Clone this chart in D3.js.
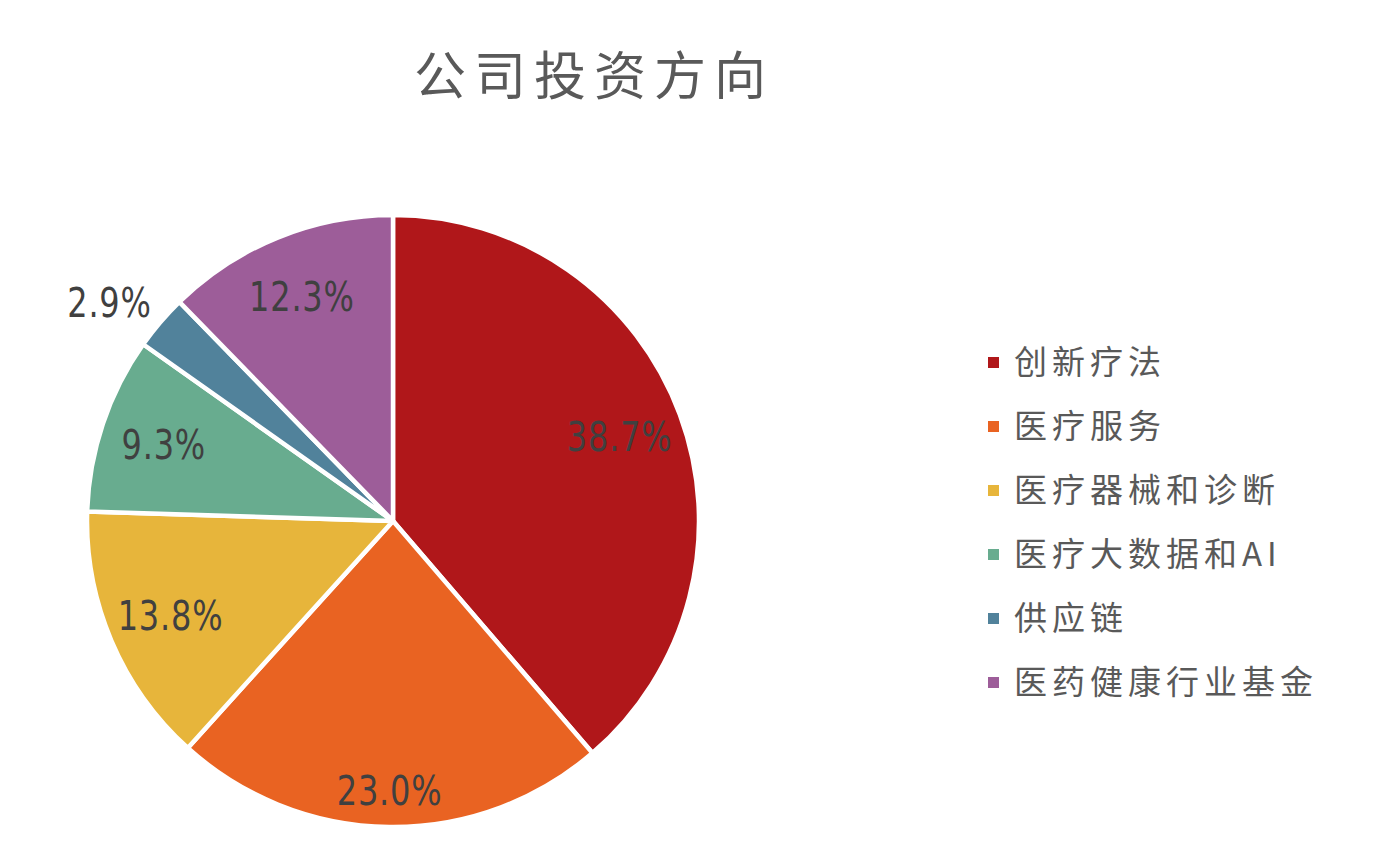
<!DOCTYPE html>
<html>
<head>
<meta charset="utf-8">
<script src="https://cdn.jsdelivr.net/npm/d3@7"></script>
<style>
  html, body { margin: 0; padding: 0; background: #fff; }
  svg { display: block; }
</style>
</head>
<body>
<div id="pie-chart"></div>
<script>
// data
const categories = ['创新疗法', '医疗服务', '医疗器械和诊断', '医疗大数据和AI', '供应链', '医药健康行业基金'];
const values = [38.7, 23.0, 13.8, 9.3, 2.9, 12.3];
const labels = ['38.7%', '23.0%', '13.8%', '9.3%', '2.9%', '12.3%'];
const colors = ['#B0171A', '#E96322', '#E7B53B', '#68AC8F', '#51829B', '#9D5D99'];

/**
 * Draw the pie chart
 */
function createPieChart() {
  // constants
  const SVG_WIDTH = 1396;
  const SVG_HEIGHT = 862;
  const CX = 393;
  const CY = 521;
  const RADIUS = 306;
  const TEXT = '#595959';
  const LABEL = '#404040';

  const svg = d3.select('#pie-chart').append('svg')
    .attr('width', SVG_WIDTH)
    .attr('height', SVG_HEIGHT);

  // title
  svg.append('text')
    .attr('x', 594)
    .attr('y', 95)
    .attr('text-anchor', 'middle')
    .attr('font-family', '"Noto Sans CJK SC"')
    .attr('font-size', 52)
    .attr('letter-spacing', 8)
    .attr('fill', TEXT)
    .text('公司投资方向');

  const pie = d3.pie()
    .value(d => d)
    .sort(null);
  const arcs = pie(values);

  const arc = d3.arc()
    .innerRadius(0)
    .outerRadius(RADIUS);

  const g = svg.append('g')
    .attr('transform', `translate(${CX},${CY})`);

  g.selectAll('path')
    .data(arcs)
    .join('path')
      .attr('d', arc)
      .attr('fill', (_, i) => colors[i])
      .attr('stroke', '#fff')
      .attr('stroke-width', 4.5)
      .attr('stroke-linejoin', 'round');

  // label radius as a fraction of the radius (best-fit style, small slice outside)
  const labelRadius = (d, i) => {
    if (d.value < 5) return 1.17;
    if (i === 1) return 0.88;
    return 0.79;
  };

  g.selectAll('text.label')
    .data(arcs)
    .join('text')
      .attr('class', 'label')
      .attr('transform', (d, i) => {
        const r = RADIUS * labelRadius(d, i);
        const a = (d.startAngle + d.endAngle) / 2 - (d.value < 5 ? 0.05 : 0);
        return `translate(${Math.sin(a) * r},${-Math.cos(a) * r}) scale(0.8,1)`;
      })
      .attr('text-anchor', 'middle')
      .attr('dy', '0.36em')
      .attr('font-family', '"DejaVu Sans", sans-serif')
      .attr('font-size', 40)
      .attr('letter-spacing', 1)
      .attr('fill', LABEL)
      .text((_, i) => labels[i]);

  // legend
  const legend = svg.append('g')
    .attr('transform', 'translate(988,362)');

  const item = legend.selectAll('g')
    .data(categories)
    .join('g')
      .attr('transform', (_, i) => `translate(0,${i * 64})`);

  item.append('rect')
    .attr('x', 0)
    .attr('y', -5)
    .attr('width', 11)
    .attr('height', 11)
    .attr('fill', (_, i) => colors[i]);

  item.append('text')
    .attr('x', 26)
    .attr('dy', '0.36em')
    .attr('font-family', '"Noto Sans CJK SC"')
    .attr('font-size', 33)
    .attr('letter-spacing', 5)
    .attr('fill', TEXT)
    .text(d => d);
}

(function main() {
  createPieChart();
})();
</script>
</body>
</html>
